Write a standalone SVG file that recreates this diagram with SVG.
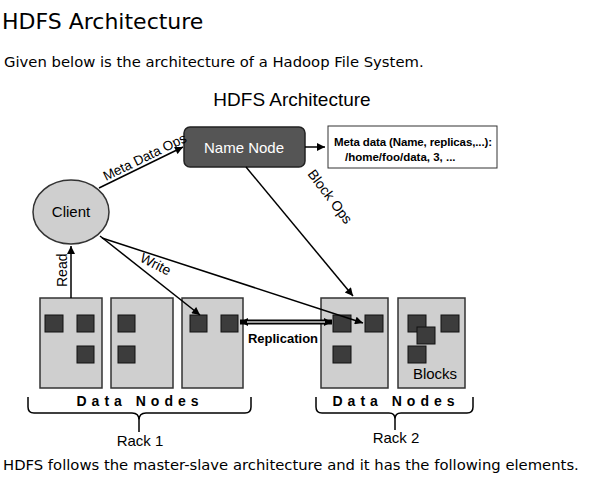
<svg xmlns="http://www.w3.org/2000/svg" width="601" height="496" viewBox="0 0 601 496">
<defs>
<marker id="a" viewBox="0 0 10 10" refX="10" refY="5" markerWidth="10" markerHeight="8" markerUnits="userSpaceOnUse" orient="auto-start-reverse"><path d="M0,0L10,5L0,10z" fill="#000"/></marker>
<style>
text{font-family:"Liberation Sans",Arial,sans-serif;fill:#000}
.dn{fill:#cfcfcf;stroke:#333;stroke-width:1.5}
.b{fill:#3c3c3c;stroke:#111;stroke-width:1}
.l{stroke:#000;stroke-width:1.5;fill:none}
.w{font-family:"DejaVu Sans",Verdana,sans-serif}
</style>
</defs>
<rect width="601" height="496" fill="#fff"/>
<text class="w" x="2" y="29" font-size="22">HDFS Architecture</text>
<text class="w" x="4" y="67" font-size="14.8">Given below is the architecture of a Hadoop File System.</text>
<text x="292" y="106" font-size="19" text-anchor="middle">HDFS Architecture</text>
<g id="namenode"><rect x="184" y="127" width="121" height="40" rx="6" fill="#555" stroke="#222" stroke-width="1.5"/><text x="244" y="153" font-size="15" style="fill:#fff" text-anchor="middle">Name Node</text></g>
<g id="metadata"><rect x="328" y="126" width="169" height="42" fill="#fff" stroke="#333"/><text x="334" y="146" font-size="11.5" font-weight="bold" textLength="158">Meta data (Name, replicas,...):</text><text x="345" y="161" font-size="11.5" font-weight="bold">/home/foo/data,  3, ...</text></g>
<g id="client"><ellipse cx="71" cy="212" rx="38" ry="32" fill="#cfcfcf" stroke="#333" stroke-width="1.5"/><text x="71" y="217" font-size="15" text-anchor="middle">Client</text></g>
<g id="rack1">
<rect class="dn" x="40" y="298" width="62" height="90"/><rect class="dn" x="111" y="298" width="62" height="90"/><rect class="dn" x="182" y="298" width="61" height="90"/>
<rect class="b" x="45" y="315" width="18" height="17"/><rect class="b" x="77" y="315" width="17" height="17"/><rect class="b" x="77" y="346" width="17" height="17"/>
<rect class="b" x="118" y="315" width="17" height="17"/><rect class="b" x="118" y="346" width="17" height="17"/>
<rect class="b" x="190" y="315" width="17" height="17"/><rect class="b" x="221" y="315" width="17" height="17"/>
<text x="140" y="406" font-size="14" font-weight="bold" text-anchor="middle" letter-spacing="5">Data Nodes</text>
<path class="l" d="M28,397 v10 q0,6 6,6 h98 q7,0 7,7 v12 M139,420 q0,-7 7,-7 h99 q6,0 6,-6 v-10"/>
<text x="140" y="446" font-size="15" text-anchor="middle">Rack 1</text>
</g>
<g id="rack2">
<rect class="dn" x="321" y="298" width="67" height="90"/><rect class="dn" x="398" y="298" width="67" height="90"/>
<rect class="b" x="333" y="315" width="18" height="17"/><rect class="b" x="365" y="315" width="18" height="17"/><rect class="b" x="333" y="346" width="18" height="17"/>
<rect class="b" x="408" y="315" width="18" height="17"/><rect class="b" x="417" y="327" width="18" height="17"/><rect class="b" x="441" y="315" width="18" height="17"/><rect class="b" x="408" y="346" width="18" height="17"/>
<text x="435" y="379" font-size="15" text-anchor="middle">Blocks</text>
<text x="396" y="406" font-size="14" font-weight="bold" text-anchor="middle" letter-spacing="5">Data Nodes</text>
<path class="l" d="M316,397 v10 q0,6 6,6 h67 q6,0 6,6 v11 M395,419 q0,-6 6,-6 h66 q6,0 6,-6 v-10"/>
<text x="396" y="443" font-size="15" text-anchor="middle">Rack 2</text>
</g>
<g id="connectors">
<line class="l" x1="305" y1="147" x2="325" y2="147" marker-end="url(#a)"/>
<line class="l" x1="99" y1="188" x2="183" y2="147" marker-end="url(#a)"/>
<text font-size="13.5" transform="translate(106,181) rotate(-26)">Meta Data Ops</text>
<line class="l" x1="246" y1="167" x2="353" y2="296" marker-end="url(#a)"/>
<text font-size="14" transform="translate(307,174) rotate(53)">Block Ops</text>
<line class="l" x1="71" y1="298" x2="71" y2="246" marker-end="url(#a)"/>
<text font-size="14" transform="translate(67,287) rotate(-90)">Read</text>
<line class="l" x1="100" y1="236" x2="200" y2="315" marker-end="url(#a)"/>
<text font-size="14" transform="translate(139,261) rotate(27)">Write</text>
<line class="l" x1="102" y1="238" x2="363" y2="323" marker-end="url(#a)"/>
<line x1="240" y1="322" x2="332" y2="322" stroke="#000" stroke-width="5" marker-start="url(#a)" marker-end="url(#a)"/>
<line x1="247" y1="322" x2="325" y2="322" stroke="#ccc" stroke-width="1.5"/>
<text x="283" y="343" font-size="13" font-weight="bold" text-anchor="middle">Replication</text>
</g>
<text class="w" x="3" y="470" font-size="14.8">HDFS follows the master-slave architecture and it has the following elements.</text>
</svg>
